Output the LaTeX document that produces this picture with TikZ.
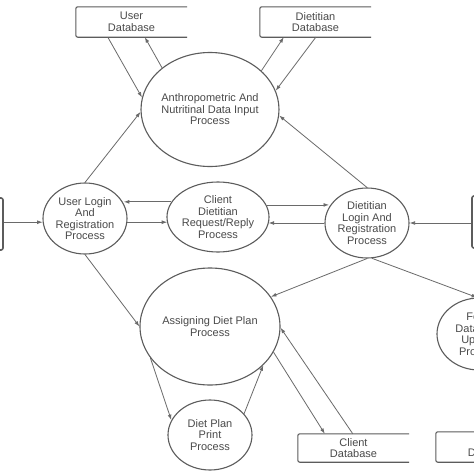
\documentclass[tikz,border=0pt]{standalone}
\usepackage{fontspec}
\setmainfont{Liberation Sans}
\usetikzlibrary{shapes.geometric,arrows.meta,calc}
\definecolor{ln}{HTML}{5C5C5C}
\definecolor{ar}{HTML}{6A6A6A}
\definecolor{tx}{HTML}{4A4A4A}
\tikzset{
  lbl/.style={text=tx, align=center, font=\fontsize{11}{11.5}\selectfont, inner sep=0pt},
  proc/.style={lbl, ellipse, draw=ln, line width=1.1pt},
  small/.style={proc, minimum width=84pt, minimum height=71pt},
  big/.style={proc, minimum width=138pt, minimum height=114pt},
  store/.style={lbl, minimum width=111pt, minimum height=30pt},
  storeline/.style={draw=ln, line width=1.1pt, rounded corners=2pt},
  ext/.style={draw=ln, line width=1.6pt, rounded corners=2pt, minimum width=60pt, minimum height=52pt, inner sep=0pt},
  flow/.style={draw=ar, line width=0.8pt, -{Latex[length=5.5pt,width=3.8pt]}}
}
\begin{document}
\begin{tikzpicture}[x=1pt,y=-1pt]
\useasboundingbox (0,0) rectangle (474,474);
\clip (0,0) rectangle (474,474);
\fill[white] (0,0) rectangle (474,474);

% data stores
\node[store] (udb) at (131.5,22) {User\\Database};
\node[store] (ddb) at (315.5,22) {Dietitian\\Database};
\node[store, minimum height=28pt] (cdb) at (353.5,448) {Client\\Database};
\node[store] (fdb) at (491.5,447) {Food\\Database};
\foreach \s in {udb,ddb,cdb,fdb}
  \draw[storeline] (\s.north east) -- (\s.north west) -- (\s.south west) -- (\s.south east);

% external entities
\node[ext] (lext) at (-27,224) {};
\node[ext] (rext) at (502,222) {};

% processes
\node[big] (anth) at (210,109.5) {Anthropometric And\\Nutritinal Data Input\\Process};
\node[big, minimum width=140pt, minimum height=117pt] (asgn) at (210,326.5) {Assigning Diet Plan\\Process};
\node[small] (ulog) at (85,218.5) {User Login\\And\\Registration\\Process};
\node[small, minimum height=70pt] (cdr) at (218,217) {Client\\Dietitian\\Request/Reply\\Process};
\node[small, minimum height=70pt] (dlog) at (367,223) {Dietitian\\Login And\\Registration\\Process};
\node[small, minimum height=70pt] (prnt) at (210,435) {Diet Plan\\Print\\Process};
\node[small, minimum height=72pt] (food) at (479,334) {Food\\Database\\Update\\Process};

% flows around anthropometric process
\draw[flow] ($(udb.south west)+(32,0)$) -- (anth.170);
\draw[flow] (anth.139) -- ($(udb.south west)+(69,0)$);
\draw[flow] (ulog.north) -- (anth.182);
\draw[flow] (anth.37) -- ($(ddb.south west)+(24,0)$);
\draw[flow] ($(ddb.south west)+(56,0)$) -- (anth.16);
\draw[flow] (dlog.north) -- (anth.355);

% horizontal flows
\draw[flow] (ulog.185 -| lext.east) -- (ulog.185);
\draw[flow] (cdr.162) -- (cdr.162 -| ulog.21);
\draw[flow] (ulog.355) -- (ulog.355 -| cdr.187);
\draw[flow] (cdr.14) -- (cdr.14 -| dlog.157);
\draw[flow] (dlog.180) -- (dlog.180 -| cdr.352);
\draw[flow] (dlog.east -| rext.west) -- (dlog.east);

% flows to assigning / food
\draw[flow] (ulog.south) -- (asgn.180);
\draw[flow] (dlog.270) -- (asgn.26);
\draw[flow] (dlog.278) -- (food.93);

% flows around assigning process
\draw[flow] (asgn.208) -- (prnt.159);
\draw[flow] (prnt.32) -- (asgn.324);
\draw[flow] (asgn.338) -- ($(cdb.north west)+(27,0)$);
\draw[flow] ($(cdb.north west)+(55,0)$) -- (asgn.359);
\end{tikzpicture}
\end{document}
